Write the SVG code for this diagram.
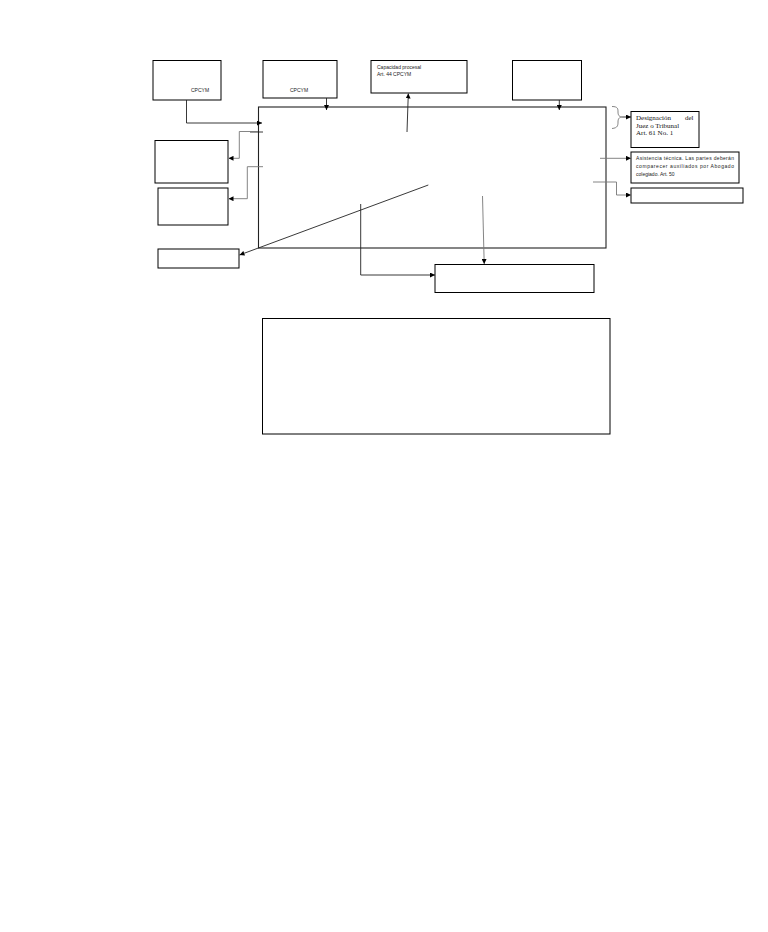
<svg xmlns="http://www.w3.org/2000/svg" width="768" height="932" viewBox="0 0 768 932">
<defs>
<marker id="ah" viewBox="0 0 6 6" refX="6" refY="3" markerWidth="5" markerHeight="5" orient="auto" markerUnits="userSpaceOnUse">
<path d="M0,0 L6,3 L0,6 Z" fill="#000"/>
</marker>
<style>
.box{fill:#fff;stroke:#000;stroke-width:1}
.big{fill:none;stroke:#222;stroke-width:1.1}
.c{fill:none;stroke:#222;stroke-width:0.9}
.g{fill:none;stroke:#777;stroke-width:0.9}
.s{font-family:"Liberation Sans",Arial,sans-serif;font-size:5px;fill:#222}
.sr{font-family:"Liberation Serif","Times New Roman",serif;font-size:7px;fill:#111}
</style>
</defs>
<rect width="768" height="932" fill="#fff"/>
<g id="main"><rect class="big" x="258.5" y="107" width="347.5" height="141"/></g>
<g id="boxA"><rect class="box" x="153" y="60.5" width="68" height="39.5"/><text class="s" x="191" y="92">CPCYM</text></g>
<g id="boxB"><rect class="box" x="263" y="60.5" width="74" height="37.5"/><text class="s" x="290" y="92">CPCYM</text></g>
<g id="boxC"><rect class="box" x="371" y="60.5" width="96" height="32.5"/><text class="s" x="377" y="69">Capacidad procesal</text><text class="s" x="377" y="76">Art. 44 CPCYM</text></g>
<g id="boxD"><rect class="box" x="512.5" y="60.5" width="69" height="39.5"/></g>
<g id="boxE"><rect class="box" x="631" y="111.5" width="68" height="36"/><text class="sr" x="636" y="120">Designación</text><text class="sr" x="685" y="120">del</text><text class="sr" x="636" y="128">Juez o Tribunal</text><text class="sr" x="636" y="135">Art. 61 No. 1</text></g>
<g id="boxF"><rect class="box" x="631" y="152" width="108" height="31"/><text class="s" x="636" y="159.5" textLength="98" lengthAdjust="spacing">Asistencia técnica. Las partes deberán</text><text class="s" x="636" y="167.5" textLength="98" lengthAdjust="spacing">comparecer auxiliados por Abogado</text><text class="s" x="636" y="175.5">colegiado. Art. 50</text></g>
<g id="boxG"><rect class="box" x="631" y="188" width="112" height="15"/></g>
<g id="boxH"><rect class="box" x="155" y="140.5" width="73" height="42.5"/></g>
<g id="boxI"><rect class="box" x="158" y="188" width="70" height="37"/></g>
<g id="boxJ"><rect class="box" x="158" y="249" width="81" height="19"/></g>
<g id="boxK"><rect class="box" x="435" y="264.5" width="159" height="28"/></g>
<g id="boxL"><rect class="box" x="262.5" y="318.5" width="347.5" height="115.5"/></g>
<g id="connectors">
<path class="c" d="M186.5,100 V123 H262" marker-end="url(#ah)"/>
<path class="c" d="M326.5,98 V110" marker-end="url(#ah)"/>
<path class="c" d="M407,132 L408.3,93.5" marker-end="url(#ah)"/>
<path class="c" d="M559.3,100 V110" marker-end="url(#ah)"/>
<path class="g" d="M612,106.5 C618,106.5 618,109 618,112 C618,115 619,117 622.5,117 C619,117 618,119 618,122 C618,125 618,128 612,128.5"/>
<path class="c" d="M622.5,117 H631" marker-end="url(#ah)"/>
<path class="g" d="M600,158.3 H631" marker-end="url(#ah)"/>
<path class="g" d="M593,182 H616.5 V195 H631" marker-end="url(#ah)"/>
<path class="c" d="M250,132 H263"/>
<path class="g" d="M258,131.5 H239.3 V158.3 H228.5" marker-end="url(#ah)"/>
<path class="g" d="M263,166.7 H247.3 V198.7 H228.5" marker-end="url(#ah)"/>
<path class="c" d="M428.3,185 L239.5,255" marker-end="url(#ah)"/>
<path class="c" d="M360.7,204 V275 H435" marker-end="url(#ah)"/>
<path class="g" d="M482.5,196 L484.2,264" marker-end="url(#ah)"/>
</g>
</svg>
